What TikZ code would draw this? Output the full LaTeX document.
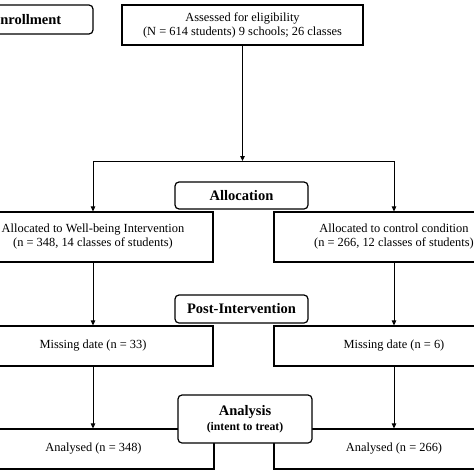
\documentclass[tikz,border=0pt]{standalone}
\usepackage{fontspec}
\setmainfont{Liberation Serif}
\usetikzlibrary{arrows.meta,calc}
\begin{document}
\begin{tikzpicture}[x=1pt,y=-1pt,
  box/.style={draw,line width=1.2pt,fill=white,inner sep=0pt,align=center,font=\fontsize{12.4}{14}\selectfont},
  rbox/.style={box,rounded corners=4pt,font=\fontsize{14.5}{16}\selectfont\bfseries},
  arr/.style={line width=1pt,-{Triangle[length=5pt,width=4.5pt]}},
  ln/.style={line width=1pt}]
\useasboundingbox (0,0) rectangle (474,474);
\begin{scope}
\clip (0,0) rectangle (474,474);
\node[rbox,minimum width=134pt,minimum height=29pt] (enr) at (26,19.5) {Enrollment};
\node[box,minimum width=241pt,minimum height=40pt] (ass) at (242.5,25) {Assessed for eligibility\\(N = 614 students) 9 schools; 26 classes};
\node[box,minimum width=240pt,minimum height=50pt] (al) at (93,237) {Allocated to Well-being Intervention\\(n = 348, 14 classes of students)};
\node[box,minimum width=240pt,minimum height=50pt] (ar) at (394,237) {Allocated to control condition\\(n = 266, 12 classes of students)};
\node[rbox,minimum width=133pt,minimum height=27pt] (alloc) at (241.5,195.5) {Allocation};
\node[rbox,minimum width=133pt,minimum height=28pt] (post) at (241.5,309) {Post-Intervention};
\node[box,minimum width=240pt,minimum height=40pt] (ml) at (93,346) {Missing date (n = 33)};
\node[box,minimum width=240pt,minimum height=40pt] (mr) at (394,346) {Missing date (n = 6)};
\node[box,minimum width=241pt,minimum height=40pt] (nl) at (93.5,449) {Analysed (n = 348)};
\node[box,minimum width=240pt,minimum height=40pt] (nr) at (394,449) {Analysed (n = 266)};
\node[rbox,minimum width=134pt,minimum height=48pt] (ana) at (245,419) {Analysis\\[-1pt]{\fontsize{11.7}{13}\selectfont(intent to treat)}};
\coordinate (j) at (242.5,161);
\coordinate (jl) at (al.north |- j);
\coordinate (jr) at (ar.north |- j);
\draw[arr] (ass.south) -- (j);
\draw[ln] (jl) -- (jr);
\draw[arr] (jl) -- (al.north);
\draw[arr] (jr) -- (ar.north);
\draw[arr] (al.south) -- (ml.north);
\draw[arr] (ar.south) -- (mr.north);
\draw[arr] (ml.south) -- (ml.south |- nl.north);
\draw[arr] (mr.south) -- (nr.north);
\end{scope}
\end{tikzpicture}
\end{document}
